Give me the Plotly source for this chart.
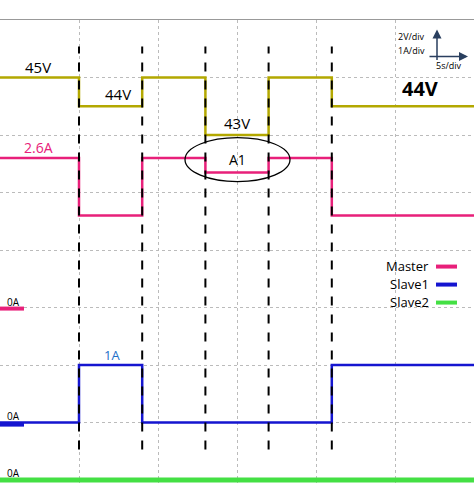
import plotly.graph_objects as go

# data (time in div, 5 s/div; levels in screen divisions)
edges = [0, 1.0, 1.8, 2.6, 3.4, 4.2, 6.0]
bus_voltage_V = [45, 44, 45, 43, 45, 44]
master_A = [2.6, 1.6, 2.6, 2.35, 2.6, 1.6]
slave1_A = [0, 1, 0, 0, 0, 1]
slave2_A = [0, 0, 0, 0, 0, 0]
dashed_t = [1.0, 1.8, 2.6, 3.4, 4.2]

# screen offsets (divisions) and scales
V_ref, V_off, V_scale = 45, 7.0, 0.5
M_off, S1_off, S2_off = 3.0, 1.0, 0.0

def steps(vals, f):
    xs, ys = [], []
    for i, v in enumerate(vals):
        xs += [edges[i], edges[i + 1]]
        ys += [f(v), f(v)]
    return xs, ys

def px(x, y):
    return x / 79.0, (480.5 - y) / 57.5

fig = go.Figure()
traces = [
    (bus_voltage_V, lambda v: V_off + (v - V_ref) * V_scale, "#B3A800", 2.5),
    (master_A, lambda v: M_off + v, "#E8207A", 2.5),
    (slave1_A, lambda v: S1_off + v, "#1515D0", 2.5),
    (slave2_A, lambda v: S2_off + v, "#44E044", 5),
]
for vals, f, c, w in traces:
    xs, ys = steps(vals, f)
    fig.add_trace(go.Scatter(x=xs, y=ys, mode="lines", line=dict(color=c, width=w), showlegend=False, hoverinfo="skip", cliponaxis=False))

for t in dashed_t:
    fig.add_shape(type="line", x0=t, x1=t, y0=px(0, 450)[1], y1=px(0, 47)[1], line=dict(color="black", width=2, dash="dash"))

x0, y0 = px(185, 182); x1, y1 = px(290, 138)
fig.add_shape(type="circle", x0=x0, x1=x1, y0=y0, y1=y1, line=dict(color="black", width=1.3))

def txt(s, x, y, size=14, color="black", bold=False, xanchor="center"):
    dx, dy = px(x, y)
    fig.add_annotation(x=dx, y=dy, text=("<b>%s</b>" % s) if bold else s, showarrow=False,
                       font=dict(size=size, color=color, family="Open Sans"), xanchor=xanchor)

txt("45V", 38, 67, 15)
txt("44V", 118, 94, 15)
txt("43V", 237, 123, 15)
txt("44V", 420, 89, 20, bold=True)
txt("2.6A", 38, 148, 14, "#E8207A")
txt("A1", 237, 160, 14)
txt("1A", 112, 355, 13, "#1E6FC8")
for yy in (302, 416, 473):
    txt("0A", 13, yy, 10)
fig.add_shape(type="line", x0=0, x1=px(24, 0)[0], y0=px(0, 309)[1], y1=px(0, 309)[1], line=dict(color="#E8207A", width=4))
fig.add_shape(type="line", x0=0, x1=px(24, 0)[0], y0=px(0, 425)[1], y1=px(0, 425)[1], line=dict(color="#1515D0", width=4))

for name, yy, c in (("Master", 266, "#E8207A"), ("Slave1", 284, "#1515D0"), ("Slave2", 302, "#44E044")):
    txt(name, 431, yy, 13, xanchor="right")
    fig.add_shape(type="line", x0=px(436, 0)[0], x1=px(457, 0)[0], y0=px(0, yy + 1)[1], y1=px(0, yy + 1)[1], line=dict(color=c, width=4))

txt("2V/div", 411, 37, 9)
txt("1A/div", 411, 51, 9)
txt("5s/div", 449, 66, 9)
ax0, ay0 = px(437, 62); ax1, ay1 = px(437, 30)
fig.add_annotation(x=ax1, y=ay1, ax=ax0, ay=ay0, xref="x", yref="y", axref="x", ayref="y", showarrow=True, arrowhead=2, arrowsize=1.2, arrowwidth=1.5, text="")
bx0, by0 = px(428, 57); bx1, by1 = px(468, 57)
fig.add_annotation(x=bx1, y=by1, ax=bx0, ay=by0, xref="x", yref="y", axref="x", ayref="y", showarrow=True, arrowhead=2, arrowsize=1.2, arrowwidth=1.5, text="")

fig.update_layout(
    width=474, height=483, margin=dict(l=0, r=0, t=20, b=0),
    plot_bgcolor="white", paper_bgcolor="white",
    xaxis=dict(range=[0, 6], dtick=1, showgrid=True, gridcolor="#BBBBBB", griddash="dot", zeroline=False,
               showticklabels=False, showline=True, linecolor="#999999", mirror=True, ticks=""),
    yaxis=dict(range=[-0.05, 8.0], dtick=1, showgrid=True, gridcolor="#BBBBBB", griddash="dot", zeroline=False,
               showticklabels=False, showline=True, linecolor="#999999", mirror=True, ticks=""),
)
fig.write_html("out.html", config={"displayModeBar": False},
               post_script="document.body.style.margin='0';document.body.style.overflow='hidden';")
